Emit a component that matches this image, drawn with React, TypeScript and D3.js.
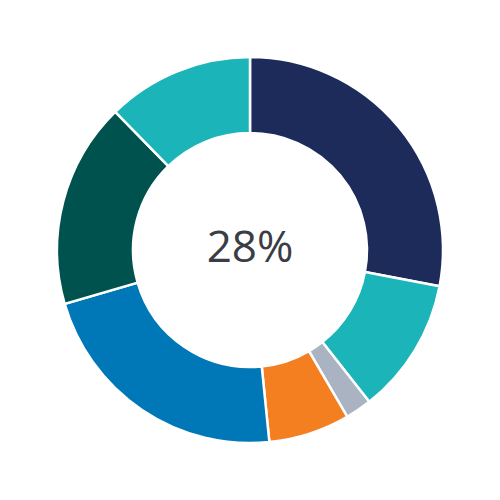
import * as d3 from 'd3'

const labels = ['A', 'B', 'C', 'D', 'E', 'F', 'G']
const values = [28, 11.4, 2.2, 6.8, 22.1, 17.2, 12.3]
const colours = ['#1c2b5a', '#1bb4b8', '#a9b3c1', '#f47f20', '#0077b6', '#00524f', '#1bb4b8']
const centreLabel = '28%'

const App = () => {
    const size = 500
    const outer = 193
    const inner = 117

    const pie = d3
        .pie<number>()
        .sort(null)
        .value(d => d)

    const arc = d3
        .arc<d3.PieArcDatum<number>>()
        .innerRadius(inner)
        .outerRadius(outer)

    const slices = pie(values).map((d, i) => (
        <path
            key={labels[i]}
            d={arc(d) ?? ''}
            fill={colours[i]}
            stroke='#fff'
            strokeWidth={2.5}
        />
    ))

    return (
        <svg width={size} height={size} style={{ position: 'absolute', left: 0, top: 0 }}>
            <rect width={size} height={size} fill='#fff' />
            <g transform={`translate(250,250)`}>
                {slices}
                <text
                    x={0}
                    y={12}
                    textAnchor='middle'
                    fontFamily='Open Sans'
                    fontSize={44}
                    fill='#3a3d45'
                >
                    {centreLabel}
                </text>
            </g>
        </svg>
    )
}

export default App
